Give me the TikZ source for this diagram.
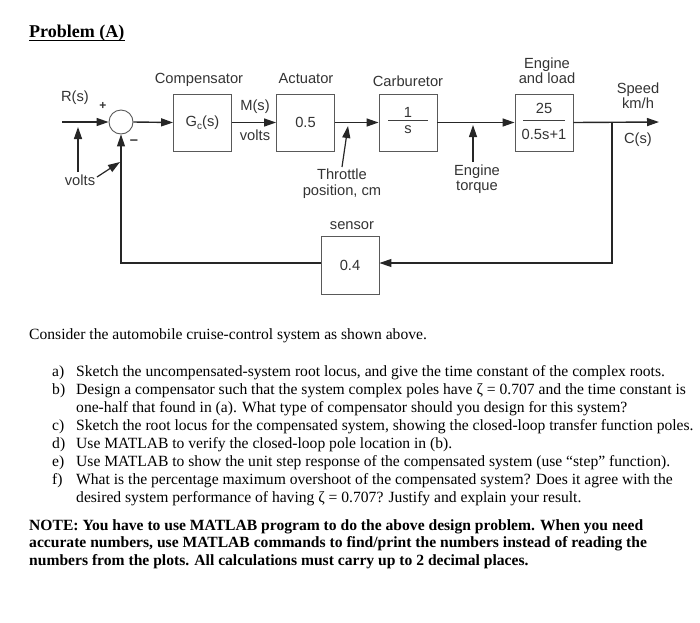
\documentclass[tikz,border=0pt]{standalone}
\usepackage{fontspec}
\setmainfont{Liberation Serif}
\newfontfamily\dsans{Liberation Sans}
\usetikzlibrary{arrows.meta}
\begin{document}
\begin{tikzpicture}[x=1pt,y=-1pt,
 blk/.style={draw=black!65,line width=0.9pt,minimum width=58pt,minimum height=57pt,inner sep=0pt},
 lbl/.style={font=\dsans\fontsize{14.7}{15}\selectfont,text=black!80,inner sep=0pt,align=center},
 sig/.style={line width=1.4pt,draw=black!85},
 arr/.style={sig,-{Triangle[length=12pt,width=8pt]}},
 thin/.style={line width=0.9pt,draw=black!75},
 body/.style={anchor=base west,inner sep=0pt,font=\fontsize{15.6}{18}\selectfont},
 bodyb/.style={body,font=\bfseries\fontsize{15.6}{18}\selectfont},
]
\useasboundingbox (0,0) rectangle (700,622);
% title
\node[anchor=base west,inner sep=0pt,font=\bfseries\fontsize{18}{20}\selectfont] (title) at (29,37) {Problem (A)};
\draw[line width=0.8pt] (title.base west) ++(0,3.5) coordinate (ul1) -- (title.base east |- ul1);

% blocks
\node[draw=black!65,line width=0.9pt,circle,minimum size=24pt,inner sep=0pt] (sum) at (121,122) {};
\node[blk] (gc) at (202.5,122.5) {};
\node[lbl] (gctext) at (gc.center) {G\raisebox{-0.35ex}{\fontsize{10}{10}\selectfont c}(s)};
\node[blk] (act) at (305.5,122.5) {};
\node[lbl] (acttext) at (act.center) {0.5};
\node[blk] (carb) at (408,122.5) {};
\node[lbl] (carbnum) at (408,112) {1};
\node[lbl] (carbden) at (408,130) {s};
\draw[thin] (388,120) coordinate (cb1) -- (428,120) coordinate (cb2);
\node[blk] (eng) at (544,122.5) {};
\node[lbl] (engnum) at (544,108) {25};
\node[lbl] (engden) at (544,134) {0.5s+1};
\draw[thin] (523,120) coordinate (eb1) -- (565,120) coordinate (eb2);
\node[blk,minimum width=58pt,minimum height=58pt] (sen) at (350,265) {};
\node[lbl] (sentext) at (sen.center) {0.4};

% labels
\node[lbl] (rs) at (75,98) {R(s)};
\node[lbl,font=\dsans\bfseries\fontsize{12}{12}\selectfont] (plus) at (103,106) {+};
\node[lbl,font=\dsans\bfseries\fontsize{14.7}{15}\selectfont] (minus) at (134,142) {\textendash};
\node[lbl] (voltsin) at (80,180) {volts};
\node[lbl] (lcomp) at (199,80) {Compensator};
\node[lbl] (lact) at (306,79) {Actuator};
\node[lbl] (lcarb) at (408,81) {Carburetor};
\node[lbl] (leng) at (547,70.5) {Engine\\and load};
\node[lbl] (ms) at (255,107) {M(s)};
\node[lbl] (mvolts) at (255,135) {volts};
\node[lbl] (speed) at (638,95.5) {Speed\\km/h};
\node[lbl] (cs) at (638,140) {C(s)};
\node[lbl,font=\dsans\fontsize{14.7}{16.5}\selectfont] (thr) at (342,183.5) {Throttle\\position, cm};
\node[lbl] (etq) at (477,179.5) {Engine\\torque};
\node[lbl] (lsen) at (352,226) {sensor};

% coordinates
\coordinate (in) at (62,122);
\coordinate (out) at (659,122);
\coordinate (brR) at (612,122);
\coordinate (fbR) at (612,263);
\coordinate (fbL) at (121,263);
\coordinate (vin1) at (78,172);
\coordinate (vin2) at (78,127);
\coordinate (vf1) at (97,177);
\coordinate (vf2) at (120,162);
\coordinate (th1) at (342,167);
\coordinate (th2) at (348,126);
\coordinate (et1) at (473,162);
\coordinate (et2) at (473,125);

% connectors
\draw[arr] (in) -- (sum.west);
\draw[arr] (sum.east) -- (gc.west);
\draw[arr] (gc.east) -- (act.west);
\draw[arr] (act.east) -- (carb.west);
\draw[arr] (carb.east) -- (eng.west);
\draw[arr] (eng.east) -- (out);
\draw[arr,line width=1.1pt] (brR) -- (fbR) -- (sen.east |- fbR);
\draw[arr,line width=1.1pt] (sen.west |- fbL) -- (fbL) -- (sum.south);
\draw[arr] (vin1) -- (vin2);
\draw[arr,line width=1.2pt] (vf1) -- (vf2);
\draw[arr,line width=1.2pt] (th1) -- (th2);
\draw[arr,line width=1.2pt] (et1) -- (et2);

% body text
\node[body] (t0) at (29,339) {Consider the automobile cruise-control system as shown above.};
\node[body] (la) at (52,376) {a)};
\node[body] (ta) at (76,376) {Sketch the uncompensated-system root locus, and give the time constant of the complex roots.};
\node[body] (lb) at (52,394) {b)};
\node[body] (tb) at (76,394) {Design a compensator such that the system complex poles have ζ = 0.707 and the time constant is};
\node[body] (tb2) at (76,412) {one-half that found in (a). What type of compensator should you design for this system?};
\node[body] (lc) at (52,430) {c)};
\node[body] (tc) at (76,430) {Sketch the root locus for the compensated system, showing the closed-loop transfer function poles.};
\node[body] (ld) at (52,448) {d)};
\node[body] (td) at (76,448) {Use MATLAB to verify the closed-loop pole location in (b).};
\node[body] (le) at (52,466) {e)};
\node[body] (te) at (76,466) {Use MATLAB to show the unit step response of the compensated system (use “step” function).};
\node[body] (lf) at (52,484) {f)};
\node[body] (tf) at (76,484) {What is the percentage maximum overshoot of the compensated system? Does it agree with the};
\node[body] (tf2) at (76,502) {desired system performance of having ζ = 0.707? Justify and explain your result.};
\node[bodyb] (n1) at (29,530) {NOTE: You have to use MATLAB program to do the above design problem. When you need};
\node[bodyb] (n2) at (29,547.5) {accurate numbers, use MATLAB commands to find/print the numbers instead of reading the};
\node[bodyb] (n3) at (29,565) {numbers from the plots. All calculations must carry up to 2 decimal places.};
\end{tikzpicture}
\end{document}
